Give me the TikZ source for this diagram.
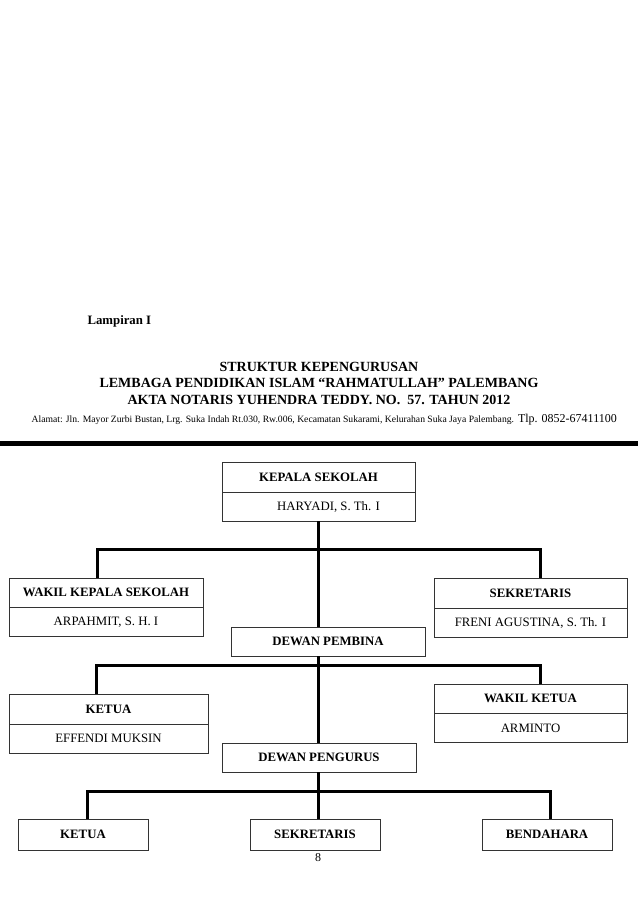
\documentclass[tikz,border=0pt]{standalone}
\usepackage{fontspec}
\setmainfont{Liberation Serif}
\usetikzlibrary{positioning}

\begin{document}
\begin{tikzpicture}[x=1pt,y=-1pt,
  jab/.style={draw=black!80, minimum height=29.5pt, inner sep=0pt, font=\fontsize{12.8}{14}\selectfont\bfseries},
  nama/.style={draw=black!80, minimum height=29pt, inner sep=0pt, font=\fontsize{12.8}{14}\selectfont},
  garis/.style={line width=3pt},
  judul/.style={anchor=base, font=\fontsize{14}{16}\selectfont\bfseries}]
  \useasboundingbox (0,0) rectangle (638,903);

  % kepala surat
  \node[anchor=base west, font=\fontsize{12.8}{14}\selectfont\bfseries] (lamp) at (84,324.5) {Lampiran I};
  \node[judul] (jdl1) at (319,371) {STRUKTUR KEPENGURUSAN};
  \node[judul] (jdl2) at (319,387.5) {LEMBAGA PENDIDIKAN ISLAM “RAHMATULLAH” PALEMBANG};
  \node[judul] (jdl3) at (319,404) {AKTA NOTARIS YUHENDRA TEDDY. NO.\ \ 57. TAHUN 2012};
  \node[anchor=base east, inner sep=0pt, font=\fontsize{12}{14}\selectfont] (alamat) at (617,422)
    {{\fontsize{9.65}{11}\selectfont Alamat: Jln. Mayor Zurbi Bustan, Lrg. Suka Indah Rt.030, Rw.006, Kecamatan Sukarami, Kelurahan Suka Jaya Palembang.} Tlp. 0852-67411100};
  \draw[line width=5pt] (0,443.5) -- (638,443.5);

  % kotak jabatan
  \node[jab, minimum width=193pt] (kepala) at (318.5,477) {KEPALA SEKOLAH};
  \node[nama, minimum width=193pt, below=0pt of kepala] (kepala-n) {\hspace*{20pt}HARYADI, S. Th. I};

  \node[jab, minimum width=194pt] (wakil) at (106,592.5) {WAKIL KEPALA SEKOLAH};
  \node[nama, minimum width=194pt, below=0pt of wakil] (wakil-n) {ARPAHMIT, S. H. I};

  \node[jab, minimum width=193pt] (sekre) at (530.5,593) {SEKRETARIS};
  \node[nama, minimum width=193pt, below=0pt of sekre] (sekre-n) {FRENI AGUSTINA, S. Th. I};

  \node[jab, minimum width=194pt, minimum height=29pt] (pembina) at (328,641.5) {DEWAN PEMBINA};

  \node[jab, minimum width=199pt] (ketua) at (108.5,709) {KETUA};
  \node[nama, minimum width=199pt, below=0pt of ketua] (ketua-n) {EFFENDI MUKSIN};

  \node[jab, minimum width=193pt] (wketua) at (530.5,698.5) {WAKIL KETUA};
  \node[nama, minimum width=193pt, below=0pt of wketua] (wketua-n) {ARMINTO};

  \node[jab, minimum width=194pt, minimum height=29pt] (pengurus) at (319,757.5) {DEWAN PENGURUS};

  \node[jab, minimum width=130pt, minimum height=31pt] (ketua2) at (83,834.5) {KETUA};
  \node[jab, minimum width=130pt, minimum height=31pt] (sekre2) at (315,834.5) {SEKRETARIS};
  \node[jab, minimum width=130pt, minimum height=31pt] (bendahara) at (547,834.5) {BENDAHARA};

  \node[font=\fontsize{12}{14}\selectfont] (hal) at (318,858) {8};

  % garis hubung
  \coordinate (a1) at (97,549);
  \coordinate (a2) at (540,549);
  \coordinate (b1) at (96,665);
  \coordinate (b2) at (540,665);
  \coordinate (c1) at (87,791);
  \coordinate (c2) at (550,791);

  \draw[garis] (kepala-n.south) -- (kepala-n.south |- pembina.north);
  \draw[garis] (wakil.north -| a1) -- (a1) -- (a2) -- (sekre.north -| a2);
  \draw[garis] (pembina.south -| kepala-n.south) -- (pengurus.north -| kepala-n.south);
  \draw[garis] (ketua.north -| b1) -- (b1) -- (b2) -- (wketua.north -| b2);
  \draw[garis] (pengurus.south -| kepala-n.south) -- (sekre2.north -| kepala-n.south);
  \draw[garis] (ketua2.north -| c1) -- (c1) -- (c2) -- (bendahara.north -| c2);
\end{tikzpicture}
\end{document}
